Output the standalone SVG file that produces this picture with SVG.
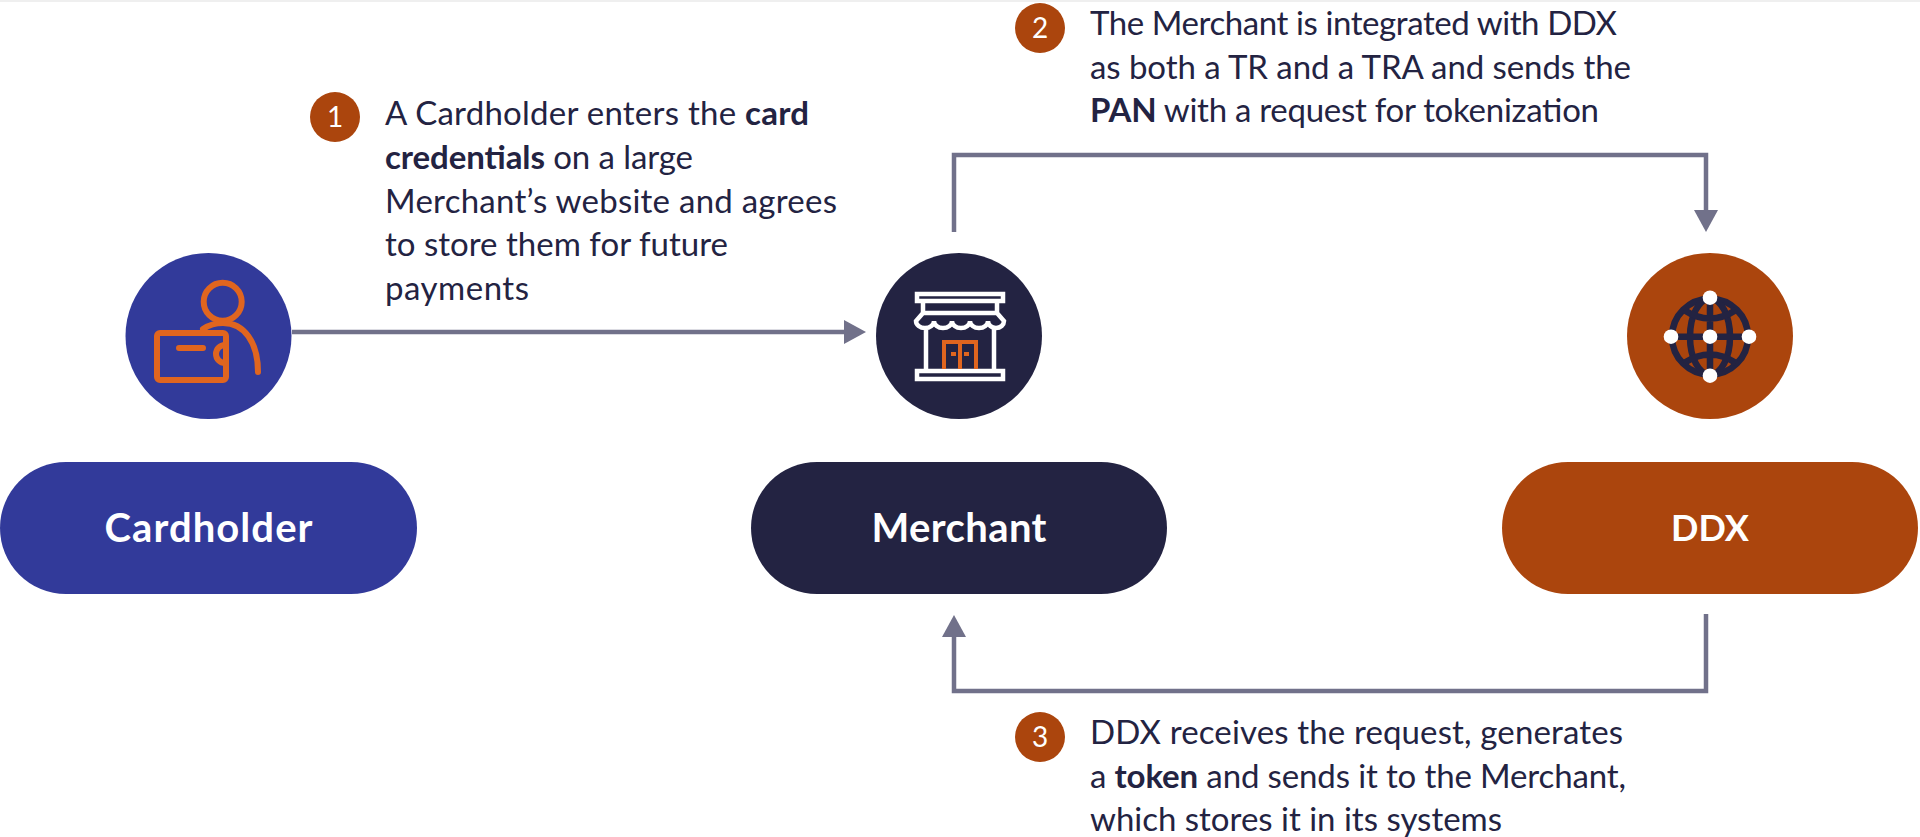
<svg xmlns="http://www.w3.org/2000/svg" width="1920" height="837" viewBox="0 0 1920 837">
<style>
text{font-family:"Lato","Noto Sans",sans-serif;fill:#232342}
.t{font-size:33px;font-weight:400}
.b{font-weight:700}
.n{font-size:28px;font-weight:400;fill:#fff;text-anchor:middle}
.p{font-size:40px;font-weight:700;fill:#fff;text-anchor:middle}
.c{fill:none;stroke:#71718a;stroke-width:4.5}
.o{fill:none;stroke:#e0651f;stroke-width:6;stroke-linecap:round;stroke-linejoin:round}
.w{fill:none;stroke:#fff;stroke-width:4.500}
.g{fill:none;stroke:#232342;stroke-width:6.500}
</style>
<defs>
<marker id="a" markerUnits="userSpaceOnUse" markerWidth="24" markerHeight="24" refX="0" refY="12" orient="auto"><path d="M0 0L22 12L0 24Z" fill="#71718a"/></marker>
</defs>
<rect width="1920" height="837" fill="#fff"/>
<rect width="1920" height="2" fill="#efefef"/>
<g id="connectors">
<path class="c" d="M292 332H844" marker-end="url(#a)"/>
<path class="c" d="M954 232V155H1706V210" marker-end="url(#a)"/>
<path class="c" d="M1706 614V691H954V637" marker-end="url(#a)"/>
</g>
<g id="cardholder">
<circle cx="208.500" cy="336" r="83" fill="#323a9a"/>
<circle class="o" cx="222.700" cy="301.700" r="19"/>
<path class="o" d="M203 329Q212 323 223 323C244 323 258 342 258 372"/>
<rect class="o" x="157" y="333" width="69" height="47" rx="3"/>
<path class="o" d="M179 348H203M225 345A9 9 0 0 0 225 363"/>
<rect x="0" y="462" width="417" height="132" rx="66" fill="#323a9a"/>
<text class="p" x="208.500" y="542" textLength="208">Cardholder</text>
</g>
<g id="merchant">
<circle cx="959" cy="336" r="83" fill="#232342"/>
<rect class="w" x="917" y="294" width="86" height="7"/>
<path class="w" d="M923 303V313H997V303M923 313L916 321A9 7 0 0 0 934 321A9 7 0 0 0 952 321A9 7 0 0 0 970 321A9 7 0 0 0 988 321A8 7 0 0 0 1004 321L997 313M926 328V370M994 328V370"/>
<rect class="w" x="917" y="371" width="86" height="8"/>
<path fill="none" stroke="#e0651f" stroke-width="4" d="M944 369V342H976V369M960 342V369"/>
<rect x="951" y="352" width="5" height="4" fill="#e0651f"/>
<rect x="964" y="352" width="5" height="4" fill="#e0651f"/>
<rect x="751" y="462" width="416" height="132" rx="66" fill="#232342"/>
<text class="p" x="959" y="542" textLength="175">Merchant</text>
</g>
<g id="ddx">
<circle cx="1710" cy="336" r="83" fill="#ab450d"/>
<circle class="g" cx="1710" cy="336.700" r="38"/>
<ellipse class="g" cx="1710" cy="336.700" rx="20" ry="38"/>
<path class="g" d="M1710 298V376M1671 336.700H1749M1684 310Q1710 327 1736 310M1684 363Q1710 346 1736 363"/>
<g fill="#fff">
<circle cx="1710" cy="297.700" r="7.300"/><circle cx="1671" cy="336.700" r="7.300"/><circle cx="1749" cy="336.700" r="7.300"/><circle cx="1710" cy="375.700" r="7.300"/><circle cx="1710" cy="336.700" r="7.300"/>
</g>
<rect x="1502" y="462" width="416" height="132" rx="66" fill="#ab450d"/>
<text class="p" x="1710" y="541" style="font-size:36px">DDX</text>
</g>
<g id="step1">
<circle cx="335" cy="117" r="25" fill="#ab450d"/><text class="n" x="335" y="127">1</text>
<text class="t" x="385" y="125" textLength="424">A Cardholder enters the <tspan class="b">card</tspan></text>
<text class="t" x="385" y="169" textLength="308"><tspan class="b">credentials</tspan> on a large</text>
<text class="t" x="385" y="213" textLength="452">Merchant’s website and agrees</text>
<text class="t" x="385" y="256" textLength="343">to store them for future</text>
<text class="t" x="385" y="300" textLength="144">payments</text>
</g>
<g id="step2">
<circle cx="1040" cy="28" r="25" fill="#ab450d"/><text class="n" x="1040" y="38">2</text>
<text class="t" x="1090" y="35" textLength="527">The Merchant is integrated with DDX</text>
<text class="t" x="1090" y="79" textLength="541">as both a TR and a TRA and sends the</text>
<text class="t" x="1090" y="122" textLength="509"><tspan class="b">PAN</tspan> with a request for tokenization</text>
</g>
<g id="step3">
<circle cx="1040" cy="737" r="25" fill="#ab450d"/><text class="n" x="1040" y="747">3</text>
<text class="t" x="1090" y="744" textLength="533">DDX receives the request, generates</text>
<text class="t" x="1090" y="788" textLength="536">a <tspan class="b">token</tspan> and sends it to the Merchant,</text>
<text class="t" x="1090" y="831" textLength="412">which stores it in its systems</text>
</g>
</svg>
